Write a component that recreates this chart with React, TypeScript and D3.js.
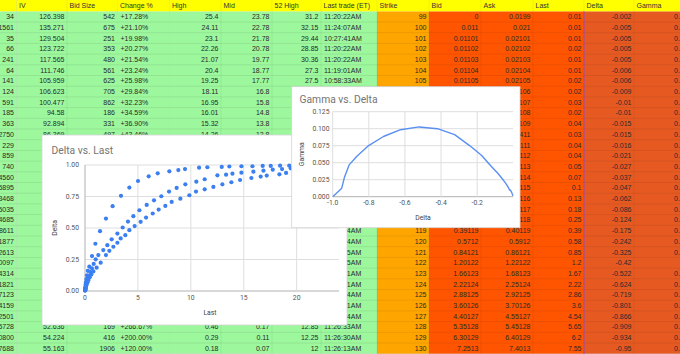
import React from "react";
import * as d3 from "d3";

const W = 680;
const H = 354;

// spreadsheet behind the charts
const headers = ["", "IV", "Bid Size", "Change %", "High", "Mid", "52 High", "Last trade (ET)", "Strike", "Bid", "Ask", "Last", "Delta", "Gamma"];
const rightAligned = [true, true, true, false, true, true, true, false, true, true, true, true, true, true];

const firstCol = ["34", "1561", "35", "66", "241", "64", "141", "124", "591", "185", "363", "2750", "229", "859", "740", "4560", "5895", "3468", "5035", "4685", "8611", "1877", "2613", "0097", "4314", "1821", "7123", "4159", "2501", "5728", "0800", "7688"];
const hid17 = Array(17).fill(null);
const iv = ["126.398", "135.271", "129.504", "123.722", "117.565", "111.746", "105.959", "106.623", "100.477", "94.58", "92.894", "86.369", ...hid17, "52.636", "54.224", "55.163"];
const bidSize = ["542", "675", "251", "353", "480", "561", "625", "705", "862", "186", "331", "497", ...hid17, "169", "416", "1906"];
const changePct = ["+17.28%", "+21.10%", "+19.98%", "+20.27%", "+21.54%", "+23.24%", "+25.98%", "+29.84%", "+32.23%", "+34.59%", "+36.90%", "+43.46%", ...hid17, "+266.67%", "+200.00%", "+120.00%"];
const high = ["25.4", "24.11", "23.1", "22.26", "21.07", "20.4", "19.25", "18.11", "16.95", "16.01", "15.32", "14.26", ...hid17, "0.46", "0.29", "0.18"];
const mid = ["23.78", "22.78", "21.78", "20.78", "19.77", "18.77", "17.77", "16.8", "15.8", "14.8", "13.8", "12.8", ...hid17, "0.17", "0.11", "0.07"];
const high52 = ["31.2", "32.15", "29.44", "28.85", "30.36", "27.3", "27.5", ...Array(22).fill(null), "12.85", "12.25", "12"];
const lastTrade = ["11:20:22AM", "11:24:07AM", "10:27:41AM", "11:20:22AM", "11:20:22AM", "11:19:01AM", "10:58:33AM", ...Array(13).fill(null),
  "11:26:14AM", "11:26:14AM", "11:26:35AM", "11:26:25AM", "11:26:31AM", "11:26:31AM", "11:26:34AM", "11:26:31AM", "11:26:14AM",
  "11:26:33AM", "11:26:30AM", "11:26:13AM"];
const strike = [99, 100, 101, 102, 103, 104, 105, 106, 107, 108, 109, 110, 111, 112, 113, 114, 115, 116, 117, 118, 119, 120, 121, 122, 123, 124, 125, 126, 127, 128, 129, 130];
const bid = ["0", "0.011", "0.01101", "0.01102", "0.01103", "0.01104", "0.01105", ...Array(13).fill(null),
  "0.39119", "0.5712", "0.84121", "1.20122", "1.66123", "2.22124", "2.88125", "3.60126", "4.40127", "5.35128", "6.30129", "7.2513"];
const ask = ["0.0199", "0.021", "0.02101", "0.02102", "0.02103", "0.02104", "0.02105", "0.02106", "0.03107", "0.02108", "0.04109", "0.0411", "0.04111",
  "0.04112", "0.05113", "0.07114", "0.10115", "0.13116", "0.18117", "0.25118", "0.40119", "0.5912", "0.86121", "1.22122", "1.68123", "2.25124",
  "2.92125", "3.70126", "4.55127", "5.45128", "6.40129", "7.4013"];
const last = [0.01, 0.01, 0.01, 0.02, 0.01, 0.01, 0.02, 0.02, 0.03, 0.02, 0.04, 0.03, 0.04, 0.04, 0.05, 0.07, 0.1, 0.13, 0.18, 0.25, 0.39, 0.58, 0.85, 1.2, 1.67, 2.22, 2.86, 3.6, 4.54, 5.65, 6.2, 7.55];
const delta = [-0.002, -0.005, -0.005, -0.005, -0.005, -0.006, -0.006, -0.009, -0.01, -0.01, -0.015, -0.015, -0.016, -0.021, -0.027, -0.037,
  -0.047, -0.062, -0.086, -0.124, -0.175, -0.242, -0.325, -0.42, -0.522, -0.624, -0.719, -0.801, -0.866, -0.909, -0.934, -0.95];
const gamma = [0.0015, 0.0035, 0.0035, 0.0035, 0.0035, 0.0042, 0.0042, 0.0061, 0.0067, 0.0068, 0.0093, 0.0094, 0.0098, 0.0099, 0.0135, 0.0178,
  0.0215, 0.0268, 0.0345, 0.0452, 0.0605, 0.0752, 0.0912, 0.1, 0.1026, 0.0985, 0.0885, 0.0752, 0.0596, 0.0468, 0.0295, 0.0125];
// deep in the money row below the visible sheet
const gammaTailDelta = [-1];
const gammaTailGamma = [0];

// Delta vs. Last, three expiries
const lastA = [0.01, 0.02, 0.04, 0.06, 0.09, 0.13, 0.19, 0.27, 0.41, 0.66, 0.98, 1.42, 1.98, 2.61, 3.4, 4.19, 5.01, 6.02, 6.87, 7.97, 8.82, 9.45, 10.78, 11.56, 12.92, 13.64, 14.78, 15.82, 16.79, 17.55, 18.43, 19.3, 20.2];
const deltaA = [0.006, 0.015, 0.03, 0.05, 0.07, 0.095, 0.125, 0.16, 0.193, 0.277, 0.375, 0.475, 0.575, 0.673, 0.755, 0.821, 0.873, 0.91, 0.934, 0.95, 0.96, 0.968, 0.979, 0.982, 0.985, 0.988, 0.99, 0.99, 0.993, 0.993, 0.995, 0.995, 0.996];
const lastB = [0.01, 0.02, 0.04, 0.07, 0.1, 0.15, 0.2, 0.28, 0.38, 0.5, 0.65, 0.82, 1.01, 1.26, 1.73, 2.11, 2.52, 3.06, 3.56, 4.06, 4.57, 5.14, 5.83, 6.52, 7.21, 7.94, 8.66, 9.48, 10.52, 11.31, 12.51, 13.33, 13.93, 14.78, 15.91, 16.86, 17.74, 18.62, 19.44];
const deltaB = [0.004, 0.01, 0.02, 0.035, 0.05, 0.065, 0.08, 0.1, 0.12, 0.15, 0.18, 0.215, 0.251, 0.285, 0.325, 0.364, 0.41, 0.456, 0.504, 0.551, 0.594, 0.641, 0.683, 0.72, 0.752, 0.789, 0.818, 0.847, 0.868, 0.887, 0.918, 0.923, 0.931, 0.939, 0.947, 0.955, 0.963, 0.968, 0.974];
const lastC = [0.01, 0.02, 0.03, 0.05, 0.08, 0.12, 0.17, 0.24, 0.33, 0.45, 0.6, 0.79, 1.1, 1.48, 1.98, 2.3, 2.68, 3.06, 3.37, 3.81, 4.19, 4.69, 5.26, 5.77, 6.4, 6.96, 7.59, 8.19, 9.01, 9.86, 10.49, 11.31, 12.13, 12.98, 13.83, 14.65, 15.72, 16.6, 17.17, 18.37, 19.0];
const deltaC = [0.003, 0.007, 0.012, 0.02, 0.03, 0.042, 0.055, 0.07, 0.088, 0.11, 0.13, 0.155, 0.185, 0.225, 0.285, 0.319, 0.351, 0.383, 0.417, 0.443, 0.483, 0.515, 0.549, 0.583, 0.615, 0.646, 0.675, 0.707, 0.733, 0.76, 0.789, 0.807, 0.826, 0.847, 0.863, 0.881, 0.897, 0.908, 0.916, 0.926, 0.937];

const deltaXTicks = [0, 5, 10, 15, 20];
const deltaYTicks = [0, 0.25, 0.5, 0.75, 1];
const gammaXTicks = [-1, -0.8, -0.6, -0.4, -0.2];
const gammaYTicks = [0, 0.025, 0.05, 0.075, 0.1, 0.125];

const colEdges = [0, 16.5, 67, 117.5, 169.5, 221, 272, 321, 377, 429, 481, 533, 584, 634, 698];
const colFill = (c: number) => (c < 8 ? "#9df79d" : c === 8 ? "#ffa500" : c < 12 ? "#ff5500" : "#e65a22");

// chart panels laid over the sheet
const deltaBox = { x: 42, y: 135, w: 305, h: 190 };
const gammaBox = { x: 291.7, y: 86.7, w: 228.3, h: 141 };

const hy = (s: string) => s.replace("\u2212", "-");
const tableFont = "'Liberation Sans', Arial, sans-serif";
const chartFont = "Roboto, 'Liberation Sans', sans-serif";

const inside = (b: typeof deltaBox, x0: number, x1: number, y: number) =>
  x0 >= b.x && x1 <= b.x + b.w && y - 3 >= b.y && y + 3 <= b.y + b.h;

export default function App() {
  const n = strike.length;
  const rowY = d3.scaleLinear().domain([0, n]).range([11.3, 11.3 + n * 10.7]);
  const rowH = rowY(1) - rowY(0);
  const columns: (string | null)[][] = [
    firstCol, iv, bidSize, changePct, high, mid, high52, lastTrade,
    strike.map(String), bid, ask, last.map(String), delta.map(String), gamma.map(String),
  ];

  const dx = d3.scaleLinear().domain([0, 24]).range([85, 339]);
  const dy = d3.scaleLinear().domain([0, 1]).range([291, 165]);
  const gx = d3.scaleLinear().domain([-1, 0]).range([332.7, 513.3]);
  const gy = d3.scaleLinear().domain([0, 0.125]).range([196.7, 111.7]);

  const scatter = [
    { l: lastA, d: deltaA },
    { l: lastB, d: deltaB },
    { l: lastC, d: deltaC },
  ].flatMap((s) => s.l.map((v, i) => [v, s.d[i]]));

  const gammaPts = d3
    .zip([...gammaTailDelta, ...delta], [...gammaTailGamma, ...gamma])
    .sort((a, b) => a[0] - b[0]);
  const gammaLine = d3.line<number[]>().x((p) => gx(p[0])).y((p) => gy(p[1]))(gammaPts) || "";

  const cells: JSX.Element[] = [];
  columns.forEach((col, c) =>
    col.forEach((v, r) => {
      if (v === null) return;
      const right = rightAligned[c];
      const x = right ? colEdges[c + 1] - 2.5 : colEdges[c] + 3;
      const y = rowY(r) + rowH / 2 + 2.5;
      const wEst = v.length * 3.9;
      const x0 = right ? x - wEst : x;
      const x1 = right ? x : x + wEst;
      // skip cells that sit completely under a chart panel
      if (inside(deltaBox, x0, x1, y) || inside(gammaBox, x0, x1, y)) return;
      cells.push(
        <text key={c + "-" + r} x={x} y={y} textAnchor={right ? "end" : "start"}>
          {v}
        </text>
      );
    })
  );

  return (
    <div style={{ position: "absolute", left: 0, top: 0 }}>
      <svg width={W} height={H} viewBox={`0 0 ${W} ${H}`} style={{ display: "block" }}>
        {/* sheet */}
        <g fontFamily={tableFont} fontSize={7} fill="#2a2a2a">
          {headers.map((h, c) => (
            <g key={"c" + c}>
              <rect x={colEdges[c]} y={rowY(0)} width={colEdges[c + 1] - colEdges[c]} height={rowY(n) - rowY(0)} fill={colFill(c)} />
              <rect x={colEdges[c]} y={0} width={colEdges[c + 1] - colEdges[c]} height={rowY(0)} fill="#ffff00" />
              <text x={colEdges[c] + 2.5} y={rowY(0) / 2 + 2.5} fill="#333">{h}</text>
            </g>
          ))}
          {strike.map((_, r) => (
            <line key={"r" + r} x1={0} x2={W} y1={rowY(r + 1)} y2={rowY(r + 1)} stroke="#000" strokeOpacity={0.07} />
          ))}
          {colEdges.slice(1, -1).map((x, i) => (
            <line key={"v" + i} x1={x} x2={x} y1={0} y2={H} stroke="#000" strokeOpacity={0.06} />
          ))}
          <line x1={584} x2={584} y1={rowY(0)} y2={H} stroke="#9b4fc0" strokeWidth={1} />
          {cells}
        </g>

        {/* Delta vs. Last */}
        <g fontFamily={chartFont}>
          <rect x={deltaBox.x} y={deltaBox.y} width={deltaBox.w} height={deltaBox.h} fill="#fff" stroke="#d4d4d4" strokeWidth={0.8} />
          <text x={51.5} y={154} fontSize={10.3} fill="#757575">Delta vs. Last</text>
          {deltaYTicks.map((t) => (
            <g key={"dy" + t}>
              <line x1={dx(0)} x2={dx.range()[1]} y1={dy(t)} y2={dy(t)} stroke={t === 0 ? "#b0b0b0" : "#dedede"} />
              <text x={79} y={dy(t) + 2.4} fontSize={6.8} fill="#555" textAnchor="end">{d3.format(".2f")(t)}</text>
            </g>
          ))}
          {deltaXTicks.map((t) => (
            <g key={"dx" + t}>
              <line x1={dx(t)} x2={dx(t)} y1={dy(1)} y2={dy(0)} stroke={t === 0 ? "#b0b0b0" : "#dedede"} />
              <text x={dx(t)} y={300} fontSize={6.8} fill="#555" textAnchor="middle">{t}</text>
            </g>
          ))}
          <text x={210} y={315} fontSize={6.8} fill="#444" textAnchor="middle">Last</text>
          <text transform={`translate(56.5,${dy(0.5)}) rotate(-90)`} fontSize={6.8} fill="#444" textAnchor="middle">Delta</text>
          {scatter.map((p, i) => (
            <circle key={"p" + i} cx={dx(p[0])} cy={dy(p[1])} r={2.1} fill="#3b7ff0" />
          ))}
        </g>

        {/* Gamma vs. Delta */}
        <g fontFamily={chartFont}>
          <rect x={gammaBox.x} y={gammaBox.y} width={gammaBox.w} height={gammaBox.h} fill="#fff" stroke="#d4d4d4" strokeWidth={0.8} />
          <text x={299.5} y={102.5} fontSize={10.3} fill="#757575">Gamma vs. Delta</text>
          {gammaYTicks.map((t) => (
            <g key={"gy" + t}>
              <line x1={gx(-1)} x2={gx(0)} y1={gy(t)} y2={gy(t)} stroke={t === 0 ? "#b0b0b0" : "#dedede"} />
              <text x={329.5} y={gy(t) + 2.4} fontSize={6.8} fill="#555" textAnchor="end">{d3.format(".3f")(t)}</text>
            </g>
          ))}
          {gammaXTicks.map((t) => (
            <g key={"gx" + t}>
              <line x1={gx(t)} x2={gx(t)} y1={gy(0.125)} y2={gy(0)} stroke="#dedede" />
              <text x={gx(t)} y={205} fontSize={6.8} fill="#555" textAnchor="middle">{hy(d3.format(".1f")(t))}</text>
            </g>
          ))}
          <text x={423} y={220} fontSize={6.8} fill="#444" textAnchor="middle">Delta</text>
          <text transform={`translate(304,${gy(0.0625)}) rotate(-90)`} fontSize={6.8} fill="#444" textAnchor="middle">Gamma</text>
          <path d={gammaLine} fill="none" stroke="#5a8ff2" strokeWidth={1.4} strokeLinejoin="round" />
        </g>
      </svg>
    </div>
  );
}
